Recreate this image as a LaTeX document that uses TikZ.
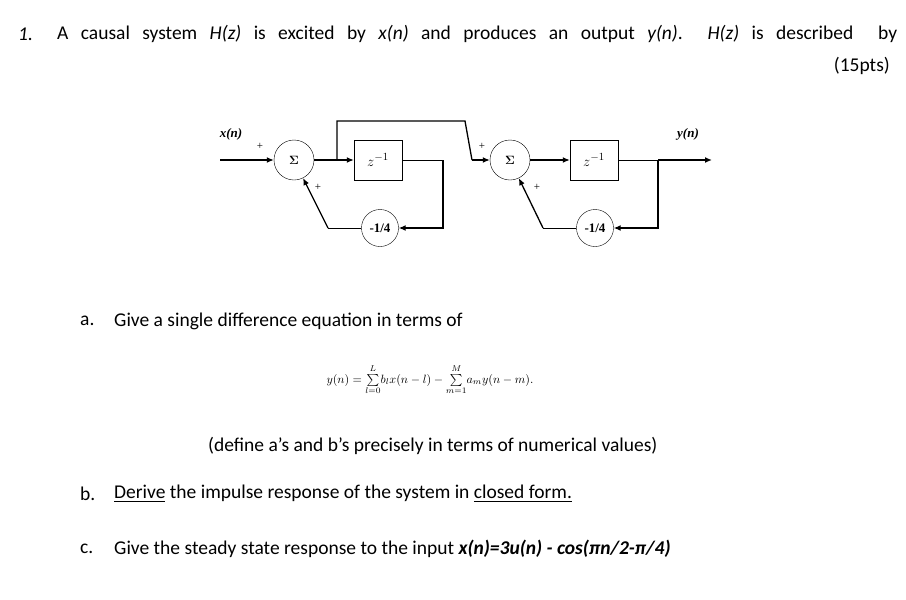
\documentclass[tikz,border=0pt]{standalone}
\usepackage{fontspec}
\usepackage{amsmath}
\setmainfont{Carlito}
\newfontfamily\tms{Liberation Serif}
\usetikzlibrary{arrows.meta}
\begin{document}
\begin{tikzpicture}[x=1pt,y=-1pt,
  sumc/.style={draw,circle,minimum size=40pt,inner sep=0pt,font=\tms\bfseries\fontsize{13}{15}\selectfont},
  gainc/.style={draw,circle,minimum size=37pt,inner sep=0pt,font=\tms\bfseries\fontsize{13}{15}\selectfont},
  dbox/.style={draw,minimum width=48pt,minimum height=40pt,inner sep=0pt,font=\tms\fontsize{15}{17}\selectfont},
  sig/.style={line width=1.3pt},
  thin1/.style={line width=0.8pt},
  arr/.style={-{Latex[length=7pt,width=6pt]}},
  lbl/.style={font=\tms\bfseries\itshape\fontsize{13}{15}\selectfont,inner sep=0pt},
  pl/.style={font=\tms\fontsize{11}{13}\selectfont,inner sep=0pt},
  txt/.style={anchor=west,inner sep=0pt,font=\fontsize{19.5}{22}\selectfont}]
\useasboundingbox (0,0) rectangle (906,600);
% header
\node[txt] (hdr) at (18,34) {\textit{1.}};
\node[txt] (t1) at (57,34) {\makebox[840pt][s]{A causal system \textit{H(z)} is excited by \textit{x(n)} and produces an output \textit{y(n)}.\ \ \textit{H(z)} is described\ \ by}};
\node[anchor=east,inner sep=0pt,font=\fontsize{19.5}{22}\selectfont] (pts) at (890,66) {(15pts)};
% diagram
\node[sumc] (s1) at (294,160) {$\boldsymbol{\Sigma}$};
\node[dbox] (d1) at (378,160) {$z^{-1}$};
\node[gainc] (g1) at (380,228) {-1/4};
\node[sumc] (s2) at (510,160) {$\boldsymbol{\Sigma}$};
\node[dbox] (d2) at (594,160) {$z^{-1}$};
\node[gainc] (g2) at (595,228) {-1/4};
\coordinate (in) at (220,160);
\coordinate (b1) at (337,160);
\coordinate (t1a) at (337,121);
\coordinate (t1b) at (465,121);
\coordinate (t1c) at (472,160);
\coordinate (r1) at (443,160);
\coordinate (r1b) at (443,228);
\coordinate (l1) at (328,228);
\coordinate (r2) at (658,160);
\coordinate (r2b) at (658,228);
\coordinate (l2) at (543,228);
\coordinate (out) at (712,160);
\draw[sig,arr] (in) -- (s1);
\draw[sig,arr] (s1) -- (d1);
\draw[sig] (b1) -- (t1a) -- (t1b) -- (t1c);
\draw[sig,arr] (t1c) -- (s2);
\draw[thin1] (d1) -- (r1);
\draw[sig,arr] (r1) -- (r1b) -- (g1);
\draw[thin1] (g1) -- (l1);
\draw[sig,arr] (l1) -- (s1);
\draw[sig,arr] (s2) -- (d2);
\draw[thin1] (d2) -- (r2);
\draw[sig,arr] (r2) -- (out);
\draw[sig,arr] (r2) -- (r2b) -- (g2);
\draw[thin1] (g2) -- (l2);
\draw[sig,arr] (l2) -- (s2);
\node[lbl] (xn) at (231,134) {x(n)};
\node[lbl] (yn) at (688,134) {y(n)};
\node[pl] (p1) at (260,146) {+};
\node[pl] (p2) at (318,187) {+};
\node[pl] (p3) at (482,146) {+};
\node[pl] (p4) at (537,187) {+};
% questions
\node[txt] (qa) at (80,321) {a.};
\node[txt] (qat) at (114,321) {Give a single difference equation in terms of};
\node[inner sep=0pt] (eq) at (430,380) {\scalebox{1.2}{$y(n)=\sum\limits_{l=0}^{L}\! b_l x(n-l)-\sum\limits_{m=1}^{M}\! a_m y(n-m).$}};
\node[txt] (def) at (208,446) {(define a’s and b’s precisely in terms of numerical values)};
\node[txt] (qb) at (80,494) {b.};
\node[txt] (qbt) at (114,494) {\underline{Derive} the impulse response of the system in \underline{closed form.}};
\node[txt] (qc) at (80,549) {c.};
\node[txt] (qct) at (114,549) {Give the steady state response to the input \textbf{\textit{x(n)=3u(n) - cos(πn/2-π/4)}}};
\end{tikzpicture}
\end{document}
